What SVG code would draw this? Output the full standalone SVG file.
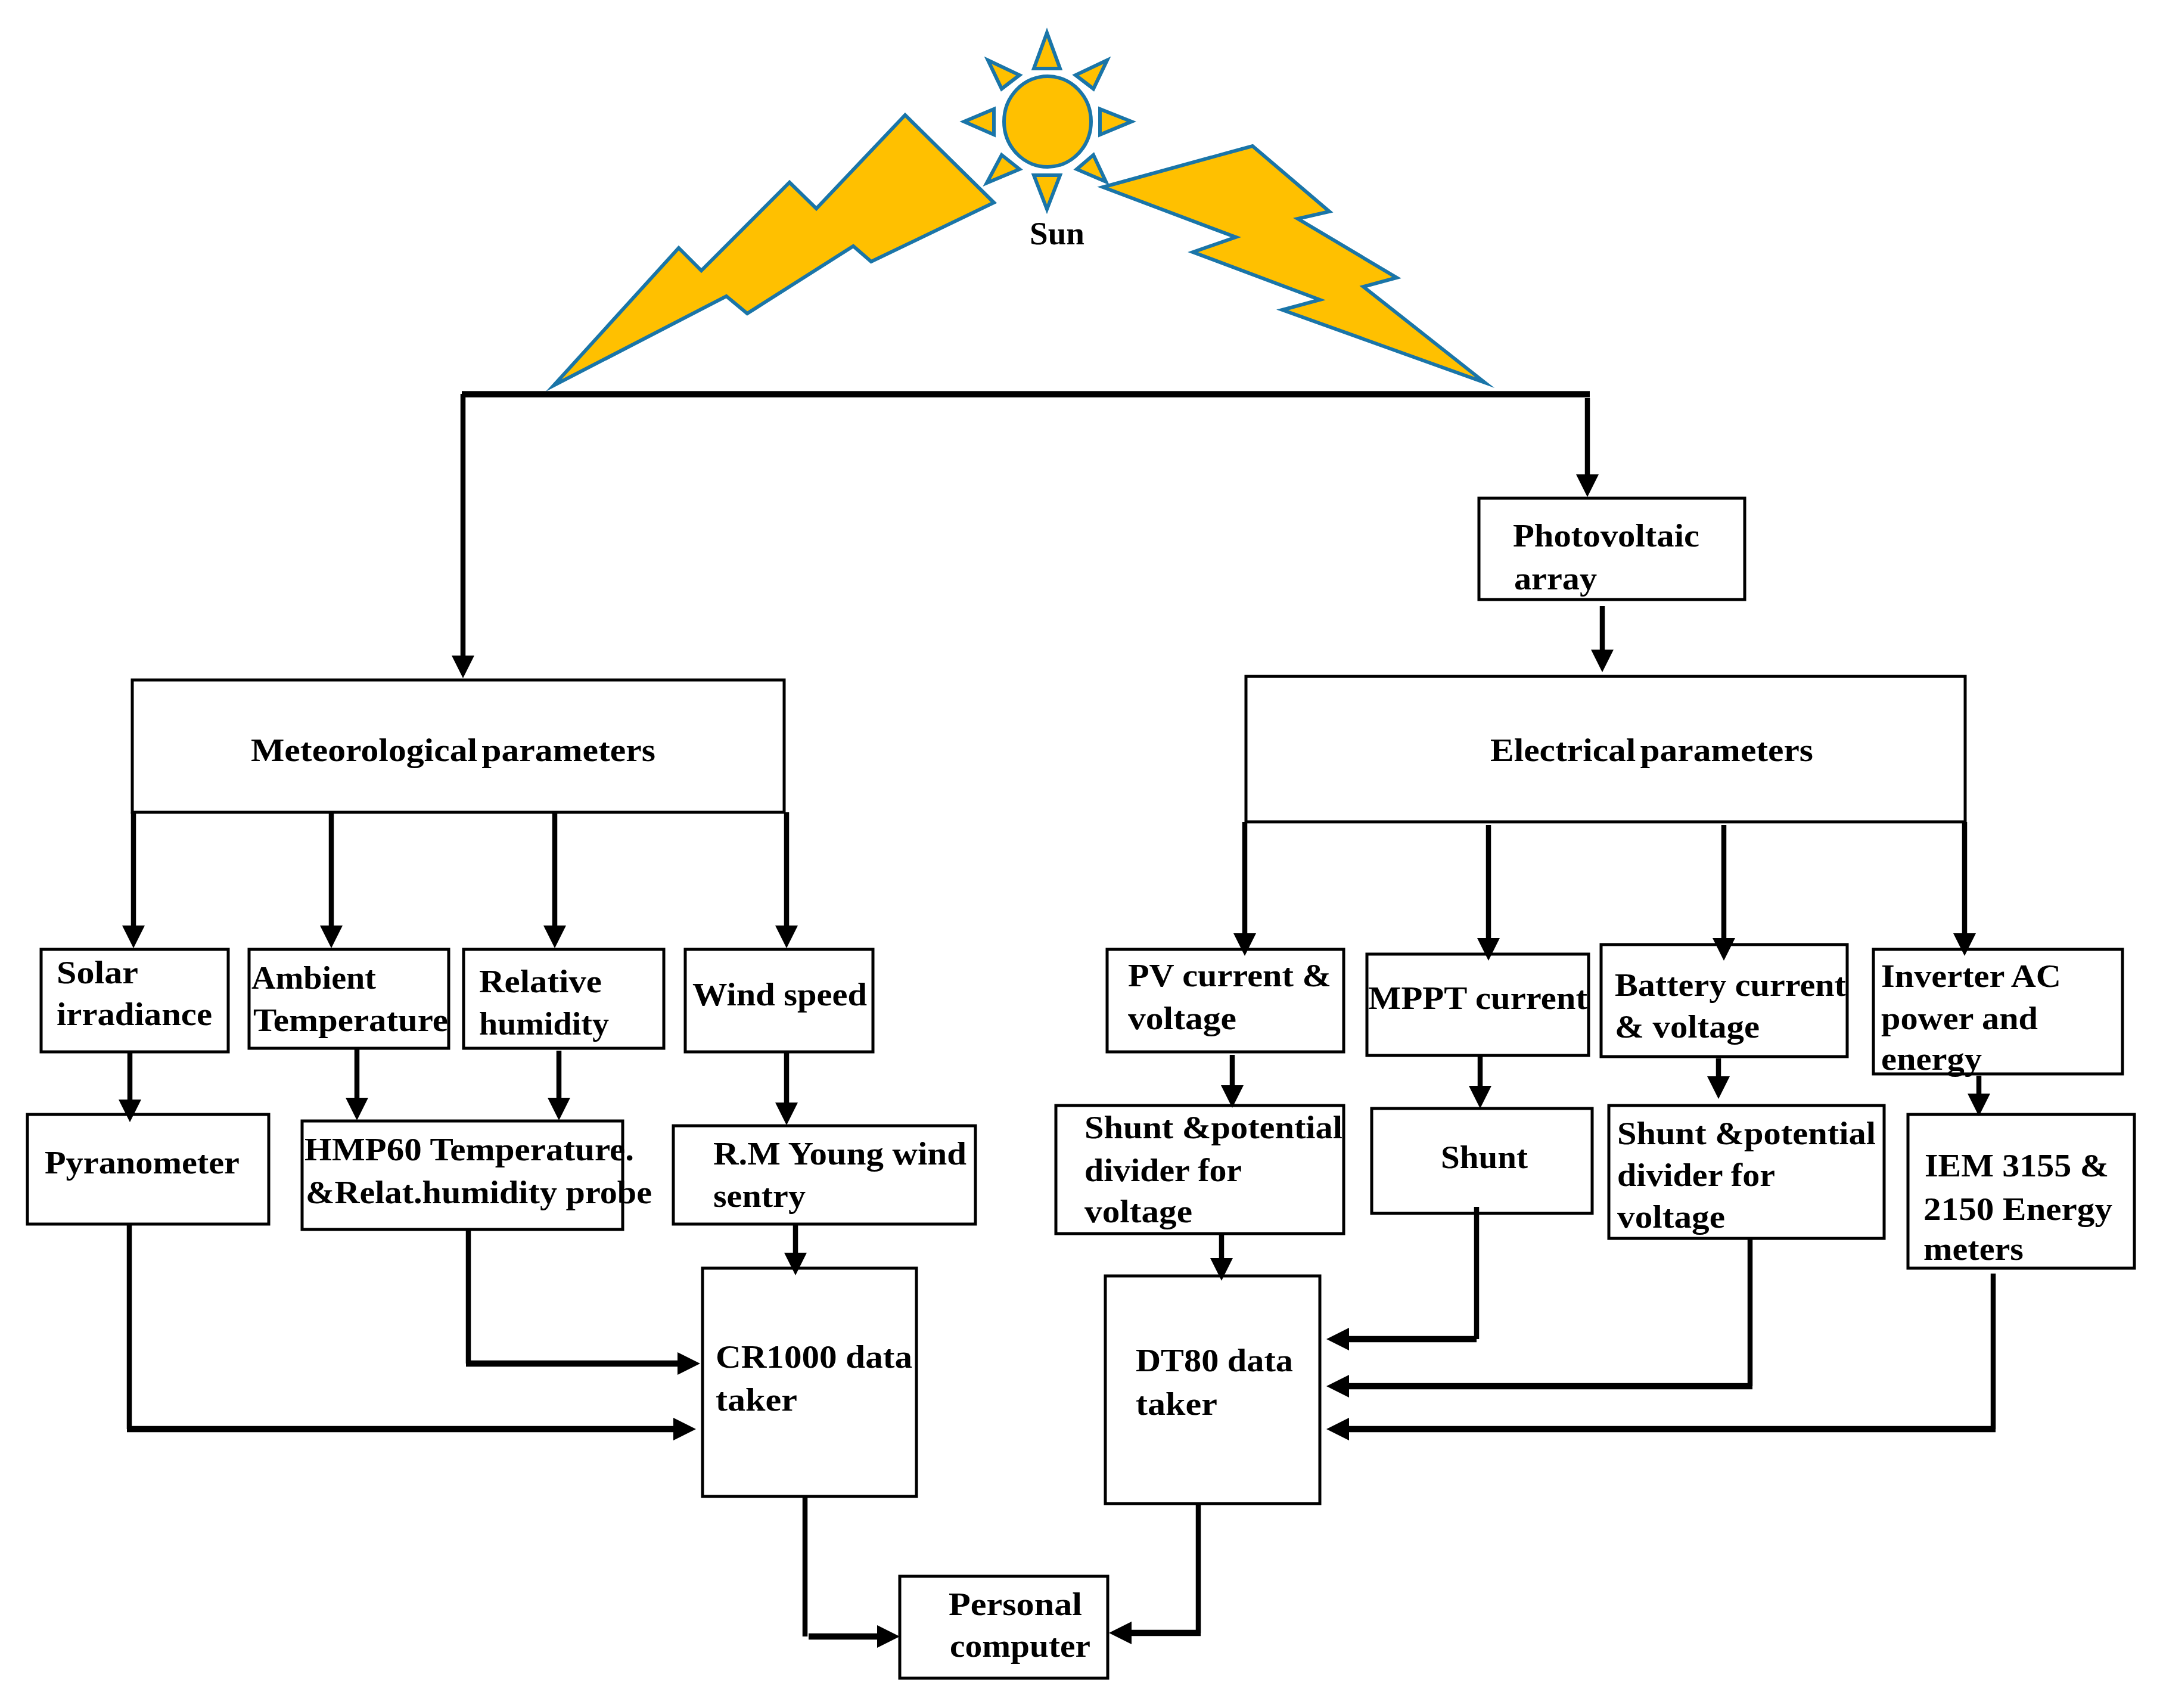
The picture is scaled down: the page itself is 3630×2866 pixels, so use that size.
<svg xmlns="http://www.w3.org/2000/svg" width="3630" height="2866" viewBox="0 0 3630 2866">
<style>
.t{font-family:"Liberation Serif","Times New Roman",serif;font-weight:700;font-size:54px;fill:#000}
.n{word-spacing:-7px}
.b{fill:#fff;stroke:#000;stroke-width:5}
.s{fill:#FFC000;stroke:#1A75A8;stroke-width:6;stroke-linejoin:miter;stroke-miterlimit:20}
.v{fill:none;stroke:#000;stroke-width:8.5}
.h{fill:none;stroke:#000;stroke-width:10.5}
.a{marker-end:url(#ah)}
</style>
<defs>
<marker id="ah" markerUnits="userSpaceOnUse" markerWidth="38" markerHeight="38" viewBox="0 0 38 38" refX="8" refY="19" orient="auto"><path d="M0 0L38 19L0 38z" fill="#000"/></marker>
</defs>
<rect width="3630" height="2866" fill="#fff"/>
<g id="sun">
<ellipse class="s" cx="1758" cy="204" rx="73" ry="76"/>
<polygon class="s" points="1757,55 1735,115 1779,115"/>
<polygon class="s" points="1658,101 1711,126 1681,149"/>
<polygon class="s" points="1858,101 1805,126 1835,149"/>
<polygon class="s" points="1618,204 1668,183 1668,226"/>
<polygon class="s" points="1899,204 1846,183 1846,226"/>
<polygon class="s" points="1681,260 1711,284 1656,307"/>
<polygon class="s" points="1835,260 1807,284 1856,305"/>
<polygon class="s" points="1757,351 1735,294 1779,294"/>
<text class="t" x="1728" y="410" textLength="92" lengthAdjust="spacingAndGlyphs">Sun</text>
</g>
<g id="bolt-left"><polygon class="s" points="929,647 1139,416 1177,454 1325,306 1370,350 1519,193 1668,340 1462,439 1432,413 1254,526 1219,497"/></g>
<g id="bolt-right"><polygon class="s" points="2492,642 2288,481 2344,466 2178,367 2231,355 2102,245 1851,314 2074,398 2002,423 2215,503 2152,520"/></g>
<g id="met"><rect class="b" x="222" y="1141" width="1094" height="222"/><text class="t n" x="421" y="1277" textLength="679" lengthAdjust="spacingAndGlyphs">Meteorological parameters</text></g>
<g id="elec"><rect class="b" x="2091" y="1135" width="1207" height="244"/><text class="t n" x="2501" y="1277" textLength="542" lengthAdjust="spacingAndGlyphs">Electrical parameters</text></g>
<g id="pv-array"><rect class="b" x="2482" y="836" width="446" height="170"/><text class="t" x="2539" y="917" textLength="313" lengthAdjust="spacingAndGlyphs">Photovoltaic</text><text class="t" x="2541" y="989" textLength="139" lengthAdjust="spacingAndGlyphs">array</text></g>
<g id="solar"><rect class="b" x="69" y="1593" width="314" height="172"/><text class="t" x="95" y="1650" textLength="137" lengthAdjust="spacingAndGlyphs">Solar</text><text class="t" x="95" y="1720" textLength="261" lengthAdjust="spacingAndGlyphs">irradiance</text></g>
<g id="ambient"><rect class="b" x="418" y="1593" width="335" height="166"/><text class="t" x="422" y="1659" textLength="209" lengthAdjust="spacingAndGlyphs">Ambient</text><text class="t" x="425" y="1730" textLength="327" lengthAdjust="spacingAndGlyphs">Temperature</text></g>
<g id="relative"><rect class="b" x="778" y="1593" width="336" height="166"/><text class="t" x="804" y="1665" textLength="206" lengthAdjust="spacingAndGlyphs">Relative</text><text class="t" x="804" y="1736" textLength="218" lengthAdjust="spacingAndGlyphs">humidity</text></g>
<g id="wind"><rect class="b" x="1150" y="1593" width="315" height="172"/><text class="t" x="1162" y="1687" textLength="293" lengthAdjust="spacingAndGlyphs">Wind speed</text></g>
<g id="pyranometer"><rect class="b" x="46" y="1870" width="405" height="184"/><text class="t" x="75" y="1969" textLength="327" lengthAdjust="spacingAndGlyphs">Pyranometer</text></g>
<g id="hmp60"><rect class="b" x="507" y="1881" width="538" height="182"/><text class="t" x="511" y="1947" textLength="553" lengthAdjust="spacingAndGlyphs">HMP60 Temperature.</text><text class="t" x="513" y="2019" textLength="581" lengthAdjust="spacingAndGlyphs">&amp;Relat.humidity probe</text></g>
<g id="rm-young"><rect class="b" x="1130" y="1889" width="507" height="165"/><text class="t" x="1197" y="1954" textLength="425" lengthAdjust="spacingAndGlyphs">R.M Young wind</text><text class="t" x="1197" y="2025" textLength="155" lengthAdjust="spacingAndGlyphs">sentry</text></g>
<g id="cr1000"><rect class="b" x="1179" y="2128" width="359" height="383"/><text class="t" x="1201" y="2295" textLength="330" lengthAdjust="spacingAndGlyphs">CR1000 data</text><text class="t" x="1201" y="2367" textLength="137" lengthAdjust="spacingAndGlyphs">taker</text></g>
<g id="pc"><rect class="b" x="1510" y="2645" width="349" height="171"/><text class="t" x="1592" y="2710" textLength="224" lengthAdjust="spacingAndGlyphs">Personal</text><text class="t" x="1594" y="2780" textLength="236" lengthAdjust="spacingAndGlyphs">computer</text></g>
<g id="pv-cv"><rect class="b" x="1858" y="1593" width="397" height="172"/><text class="t" x="1893" y="1655" textLength="341" lengthAdjust="spacingAndGlyphs">PV current &amp;</text><text class="t" x="1893" y="1727" textLength="182" lengthAdjust="spacingAndGlyphs">voltage</text></g>
<g id="mppt"><rect class="b" x="2294" y="1601" width="372" height="170"/><text class="t" x="2296" y="1693" textLength="368" lengthAdjust="spacingAndGlyphs">MPPT current</text></g>
<g id="battery"><rect class="b" x="2687" y="1585" width="413" height="188"/><text class="t" x="2710" y="1671" textLength="388" lengthAdjust="spacingAndGlyphs">Battery current</text><text class="t" x="2710" y="1741" textLength="243" lengthAdjust="spacingAndGlyphs">&amp; voltage</text></g>
<g id="inverter"><rect class="b" x="3144" y="1593" width="418" height="209"/><text class="t" x="3157" y="1656" textLength="302" lengthAdjust="spacingAndGlyphs">Inverter AC</text><text class="t" x="3157" y="1727" textLength="263" lengthAdjust="spacingAndGlyphs">power and</text><text class="t" x="3157" y="1795" textLength="169" lengthAdjust="spacingAndGlyphs">energy</text></g>
<g id="shunt-div1"><rect class="b" x="1772" y="1855" width="483" height="215"/><text class="t" x="1820" y="1910" textLength="433" lengthAdjust="spacingAndGlyphs">Shunt &amp;potential</text><text class="t" x="1820" y="1982" textLength="264" lengthAdjust="spacingAndGlyphs">divider for</text><text class="t" x="1820" y="2051" textLength="181" lengthAdjust="spacingAndGlyphs">voltage</text></g>
<g id="shunt"><rect class="b" x="2302" y="1860" width="370" height="176"/><text class="t" x="2418" y="1960" textLength="146" lengthAdjust="spacingAndGlyphs">Shunt</text></g>
<g id="shunt-div2"><rect class="b" x="2700" y="1855" width="462" height="223"/><text class="t" x="2714" y="1920" textLength="434" lengthAdjust="spacingAndGlyphs">Shunt &amp;potential</text><text class="t" x="2714" y="1990" textLength="265" lengthAdjust="spacingAndGlyphs">divider for</text><text class="t" x="2714" y="2060" textLength="181" lengthAdjust="spacingAndGlyphs">voltage</text></g>
<g id="iem"><rect class="b" x="3202" y="1870" width="380" height="258"/><text class="t" x="3230" y="1974" textLength="309" lengthAdjust="spacingAndGlyphs">IEM 3155 &amp;</text><text class="t" x="3228" y="2047" textLength="317" lengthAdjust="spacingAndGlyphs">2150 Energy</text><text class="t" x="3228" y="2114" textLength="168" lengthAdjust="spacingAndGlyphs">meters</text></g>
<g id="dt80"><rect class="b" x="1855" y="2141" width="360" height="382"/><text class="t" x="1906" y="2301" textLength="264" lengthAdjust="spacingAndGlyphs">DT80 data</text><text class="t" x="1906" y="2374" textLength="137" lengthAdjust="spacingAndGlyphs">taker</text></g>
<g id="connectors">
<path class="h" d="M775 661.5H2668"/>
<path class="v a" d="M777 661V1108"/>
<path class="v a" d="M2664 668V804"/>
<path class="v a" d="M2689 1017V1098"/>
<path class="v a" d="M224 1363V1561"/>
<path class="v a" d="M556 1363V1561"/>
<path class="v a" d="M931 1363V1561"/>
<path class="v a" d="M1320 1363V1561"/>
<path class="v a" d="M218 1765V1853"/>
<path class="v a" d="M599 1759V1850"/>
<path class="v a" d="M938 1763V1850"/>
<path class="v a" d="M1320 1765V1858"/>
<path class="v" d="M217 2054V2398"/><path class="h a" d="M213 2398H1138"/>
<path class="v" d="M786 2063V2288"/><path class="h a" d="M782 2288H1145"/>
<path class="v a" d="M1335 2054V2110"/>
<path class="v" d="M1351 2511V2746"/><path class="h a" d="M1357 2746H1480"/>
<path class="v a" d="M2089 1379V1574"/>
<path class="v a" d="M2498 1384V1582"/>
<path class="v a" d="M2893 1384V1582"/>
<path class="v a" d="M3297 1379V1574"/>
<path class="v a" d="M2068 1770V1829"/>
<path class="v a" d="M2484 1773V1830"/>
<path class="v a" d="M2884 1776V1814"/>
<path class="v a" d="M3321 1805V1843"/>
<path class="v a" d="M2050 2069V2119"/>
<path class="v" d="M2478 2025V2247"/><path class="h a" d="M2478 2247H2256"/>
<path class="v" d="M2937 2079V2326"/><path class="h a" d="M2941 2326H2256"/>
<path class="v" d="M3345 2137V2398"/><path class="h a" d="M3349 2398H2256"/>
<path class="v" d="M2011 2523V2740"/><path class="h a" d="M2015 2740H1891"/>
</g>
</svg>
